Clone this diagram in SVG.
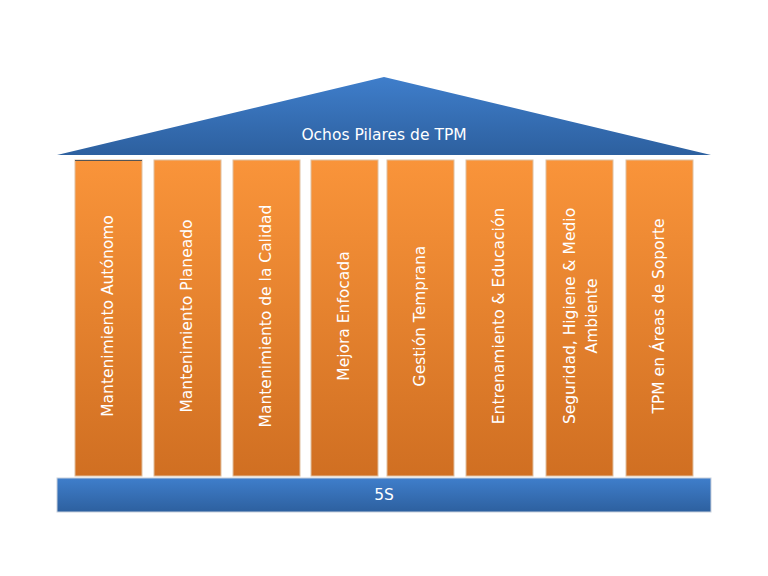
<svg xmlns="http://www.w3.org/2000/svg" width="768" height="576" viewBox="0 0 768 576">
<defs>
<linearGradient id="og" x1="0" y1="0" x2="0" y2="1"><stop offset="0" stop-color="#f9943a"/><stop offset="1" stop-color="#d06f22"/></linearGradient>
<linearGradient id="bg" x1="0" y1="0" x2="0" y2="1"><stop offset="0" stop-color="#3f7ecb"/><stop offset="1" stop-color="#2d609f"/></linearGradient>
<style>
.col{fill:url(#og);stroke:#e0c0a0;stroke-width:1}
.t{font-family:"DejaVu Sans",sans-serif;font-size:15.5px;fill:#fff;text-anchor:middle;dominant-baseline:central}
</style>
</defs>
<rect width="768" height="576" fill="#fff"/>
<g id="roof"><polygon points="57,155 384,77 711,155" fill="url(#bg)"/><text class="t" x="384" y="135">Ochos Pilares de TPM</text></g>
<g id="base"><rect x="57" y="478" width="654" height="34" fill="url(#bg)" stroke="#c8d0dc"/><text class="t" x="384" y="495">5S</text></g>
<g id="p1"><rect class="col" x="75" y="160" width="67" height="316"/><line x1="75" y1="160.5" x2="142" y2="160.5" stroke="#555" stroke-width="1"/><text class="t" transform="translate(108,316) rotate(-90)">Mantenimiento Autónomo</text></g>
<g id="p2"><rect class="col" x="154" y="160" width="67" height="316"/><text class="t" transform="translate(187,316) rotate(-90)">Mantenimiento Planeado</text></g>
<g id="p3"><rect class="col" x="233" y="160" width="67" height="316"/><text class="t" transform="translate(266,316) rotate(-90)">Mantenimiento de la Calidad</text></g>
<g id="p4"><rect class="col" x="311" y="160" width="67" height="316"/><text class="t" transform="translate(344,316) rotate(-90)">Mejora Enfocada</text></g>
<g id="p5"><rect class="col" x="387" y="160" width="67" height="316"/><text class="t" transform="translate(420,316) rotate(-90)">Gestión Temprana</text></g>
<g id="p6"><rect class="col" x="466" y="160" width="67" height="316"/><text class="t" transform="translate(499,316) rotate(-90)">Entrenamiento &amp; Educación</text></g>
<g id="p7"><rect class="col" x="546" y="160" width="67" height="316"/><text class="t" transform="translate(570,316) rotate(-90)">Seguridad, Higiene &amp; Medio</text><text class="t" transform="translate(592,316) rotate(-90)">Ambiente</text></g>
<g id="p8"><rect class="col" x="626" y="160" width="67" height="316"/><text class="t" transform="translate(659,316) rotate(-90)">TPM en Áreas de Soporte</text></g>
<g id="connectors"/>
</svg>
